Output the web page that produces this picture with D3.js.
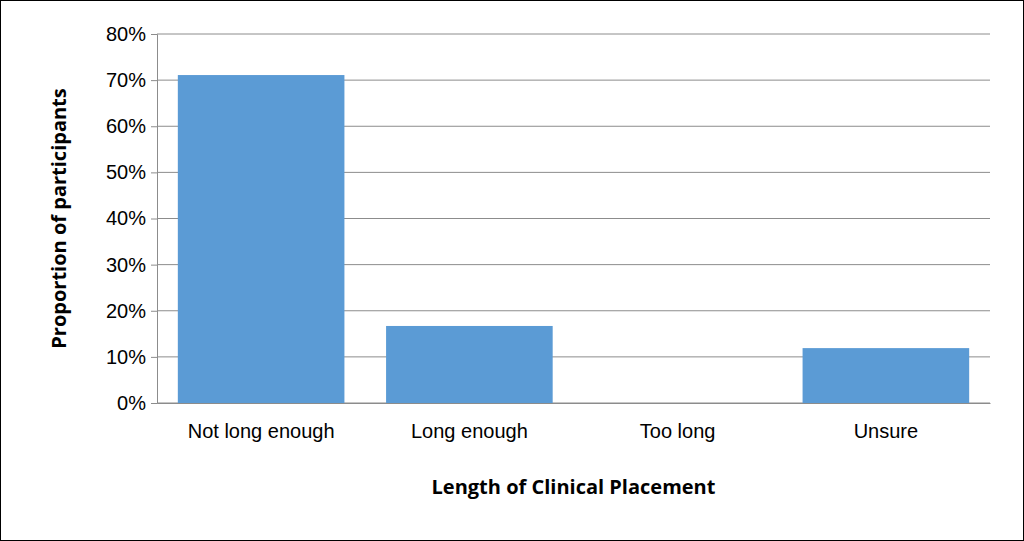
<html>
<head>
<style>
  body{margin:0;background:#fff;}
  svg{display:block;}
</style>
</head>
<body>
<div id='graph-container'></div>
<script src="https://d3js.org/d3.v7.min.js"></script>
<script>
var categories = ['Not long enough', 'Long enough', 'Too long', 'Unsure']
var values = [0.711, 0.167, 0, 0.119]
var yTicks = [0, 0.1, 0.2, 0.3, 0.4, 0.5, 0.6, 0.7, 0.8]

var W = 1024, H = 541
var margin = {top: 34, right: 34, bottom: 138, left: 157}
var width = W - margin.left - margin.right
var height = H - margin.top - margin.bottom

var svg = d3.select('#graph-container').append('svg')
  .attr('width', W).attr('height', H)
  .style('font-family', 'Open Sans, sans-serif')

svg.append('rect').attr('x', 0.5).attr('y', 0.5)
  .attr('width', W - 1).attr('height', H - 1)
  .attr('fill', 'none').attr('stroke', '#000')

var g = svg.append('g').attr('transform', `translate(${margin.left},${margin.top})`)

var xScale = d3.scaleBand().domain(categories).range([0, width]).paddingInner(0.2).paddingOuter(0.1)
var yScale = d3.scaleLinear().domain([0, 0.8]).range([height, 0])

g.selectAll('line.grid').data(yTicks).enter().append('line')
  .attr('class', 'grid')
  .attr('x1', 0).attr('x2', width)
  .attr('y1', d => yScale(d)).attr('y2', d => yScale(d))
  .attr('stroke', '#8c8c8c').attr('stroke-width', 1)

g.selectAll('rect.bar').data(values).enter().append('rect')
  .attr('class', 'bar')
  .attr('x', (d, i) => xScale(categories[i]))
  .attr('width', xScale.bandwidth())
  .attr('y', d => yScale(d))
  .attr('height', d => height - yScale(d))
  .attr('fill', '#5b9bd5')

var yAxis = g.append('g').call(d3.axisLeft(yScale).tickValues(yTicks).tickFormat(d3.format('.0%')).tickSize(6))
yAxis.selectAll('text').attr('font-size', 20).attr('fill', '#000').attr('dx', -2)
yAxis.selectAll('line, path').attr('stroke', '#8c8c8c')

var xAxis = g.append('g').attr('transform', `translate(0,${height})`)
  .call(d3.axisBottom(xScale).tickSize(0).tickSizeOuter(0))
xAxis.selectAll('text').attr('font-size', 20).attr('fill', '#000').attr('dy', '1.6em')
xAxis.select('path').attr('stroke', '#8c8c8c')

svg.append('text')
  .attr('x', margin.left + width / 2).attr('y', 494)
  .attr('text-anchor', 'middle').attr('font-size', 20).attr('font-weight', 'bold')
  .text('Length of Clinical Placement')

svg.append('text')
  .attr('transform', `translate(66,${margin.top + height / 2}) rotate(-90)`)
  .attr('text-anchor', 'middle').attr('font-size', 20).attr('font-weight', 'bold')
  .text('Proportion of participants')
</script>
</body>
</html>
